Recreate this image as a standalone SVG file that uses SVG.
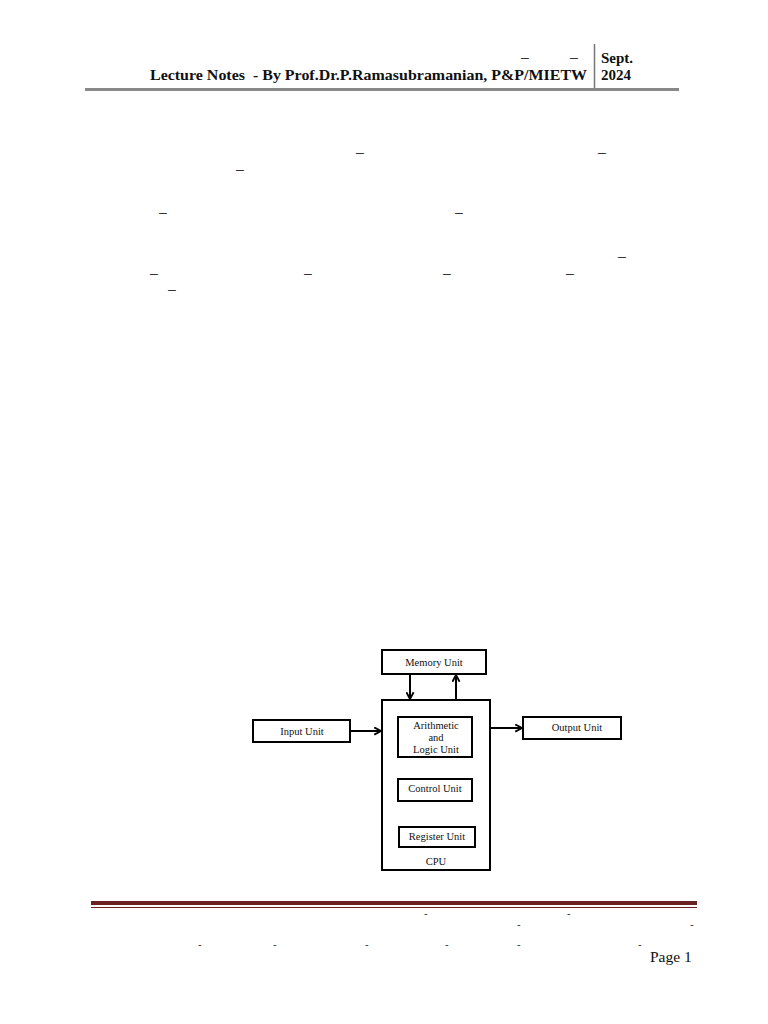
<svg xmlns="http://www.w3.org/2000/svg" width="768" height="1024" viewBox="0 0 768 1024">
<style>
.hdr{font-family:"Liberation Serif","DejaVu Serif",serif;font-weight:bold;font-size:15px;fill:#111;white-space:pre}
.dash{font-family:"Liberation Sans",sans-serif;font-size:14px;fill:#333}
.hy{font-family:"Liberation Sans",sans-serif;font-size:11px;fill:#333}
.box{fill:#fff;stroke:#000;stroke-width:2}
.lbl{font-family:"Liberation Serif","Times New Roman",serif;font-size:10.5px;fill:#111;text-anchor:middle}
.conn{stroke:#000;stroke-width:2;fill:none}
.page{font-family:"Liberation Serif",serif;font-size:15.5px;fill:#111}
</style>
<defs>
<marker id="open" viewBox="0 0 10 10" refX="9" refY="5" markerWidth="9" markerHeight="9" orient="auto" markerUnits="userSpaceOnUse">
<path d="M1.5,1 L9,5 L1.5,9" fill="none" stroke="#000" stroke-width="2"/>
</marker>
</defs>
<rect width="768" height="1024" fill="#fff"/>
<!-- header -->
<g id="header">
<text class="hdr" x="150" y="80" textLength="437" lengthAdjust="spacingAndGlyphs" xml:space="preserve">Lecture Notes  - By Prof.Dr.P.Ramasubramanian, P&amp;P/MIETW</text>
<text class="hdr" x="601" y="63">Sept.</text>
<text class="hdr" x="601" y="80">2024</text>
<line x1="594.5" y1="44" x2="594.5" y2="88" stroke="#777" stroke-width="1.5"/>
<line x1="85" y1="89.5" x2="679" y2="89.5" stroke="#888" stroke-width="3"/>
<text class="dash" x="521" y="62">–</text>
<text class="dash" x="570" y="62">–</text>
</g>
<!-- body dashes -->
<g id="dashes">
<text class="dash" x="356" y="157">–</text>
<text class="dash" x="598" y="157">–</text>
<text class="dash" x="236" y="174">–</text>
<text class="dash" x="159" y="217">–</text>
<text class="dash" x="455" y="217">–</text>
<text class="dash" x="618" y="261">–</text>
<text class="dash" x="150" y="278">–</text>
<text class="dash" x="304" y="278">–</text>
<text class="dash" x="443" y="278">–</text>
<text class="dash" x="566" y="278">–</text>
<text class="dash" x="168" y="294">–</text>
</g>
<!-- connectors -->
<g id="connectors">
<line class="conn" x1="410" y1="674" x2="410" y2="699" marker-end="url(#open)"/>
<line class="conn" x1="456" y1="699" x2="456" y2="675" marker-end="url(#open)"/>
<line class="conn" x1="350" y1="731" x2="381" y2="731" marker-end="url(#open)"/>
<line class="conn" x1="491" y1="728" x2="522" y2="728" marker-end="url(#open)"/>
</g>
<g id="memory">
<rect class="box" x="382" y="650" width="104" height="24"/>
<text class="lbl" x="434" y="666">Memory Unit</text>
</g>
<g id="cpu">
<rect class="box" x="382" y="700" width="108" height="170"/>
<text class="lbl" x="436" y="865">CPU</text>
</g>
<g id="alu">
<rect class="box" x="398" y="717" width="74" height="40"/>
<text class="lbl" x="436" y="729">Arithmetic</text>
<text class="lbl" x="436" y="741">and</text>
<text class="lbl" x="436" y="753">Logic Unit</text>
</g>
<g id="control">
<rect class="box" x="398" y="779" width="74" height="22"/>
<text class="lbl" x="435" y="792">Control Unit</text>
</g>
<g id="register">
<rect class="box" x="399" y="827" width="76" height="20"/>
<text class="lbl" x="437" y="840">Register Unit</text>
</g>
<g id="input">
<rect class="box" x="253" y="720" width="97" height="22"/>
<text class="lbl" x="302" y="735">Input Unit</text>
</g>
<g id="output">
<rect class="box" x="523" y="717" width="98" height="22"/>
<text class="lbl" x="577" y="731">Output Unit</text>
</g>
<!-- footer -->
<g id="footer">
<line x1="91" y1="903" x2="697" y2="903" stroke="#6b2222" stroke-width="4"/>
<line x1="91" y1="907.5" x2="697" y2="907.5" stroke="#6b2222" stroke-width="1.2"/>
<text class="hy" x="424" y="917">-</text>
<text class="hy" x="567" y="917">-</text>
<text class="hy" x="517" y="928">-</text>
<text class="hy" x="690" y="928">-</text>
<text class="hy" x="198" y="948">-</text>
<text class="hy" x="273" y="948">-</text>
<text class="hy" x="365" y="948">-</text>
<text class="hy" x="445" y="948">-</text>
<text class="hy" x="517" y="948">-</text>
<text class="hy" x="638" y="948">-</text>
<text class="page" x="650" y="962">Page 1</text>
</g>
</svg>
